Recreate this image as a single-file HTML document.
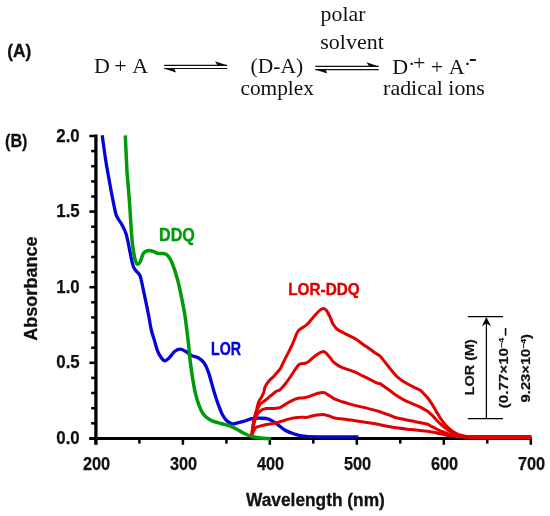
<!DOCTYPE html>
<html><head><meta charset="utf-8"><title>Figure</title>
<style>
html,body{margin:0;padding:0;background:#fff;}
svg{display:block;filter:blur(0.3px);}
.serif{font-family:"Liberation Serif",serif;font-size:21px;fill:#111;}
.sb{font-family:"Liberation Sans",sans-serif;font-weight:bold;fill:#111;}
</style></head>
<body>
<svg width="550" height="516" viewBox="0 0 550 516">
<rect width="550" height="516" fill="#fff"/>
<!-- panel A -->
<text class="sb" x="7.3" y="56.8" font-size="17.8" textLength="24.1" lengthAdjust="spacingAndGlyphs" stroke="#111" stroke-width="0.3">(A)</text>
<g class="serif">
<text font-size="22" y="72.9"><tspan x="94.0">D</tspan><tspan x="114.2"> </tspan><tspan x="114.2">+</tspan><tspan x="126.8"> </tspan><tspan x="132.3">A</tspan></text>
<text x="250.6" y="72.8" textLength="52.5" lengthAdjust="spacingAndGlyphs">(D-A)</text>
<text x="240.45" y="95.4" font-size="22" textLength="73.5" lengthAdjust="spacingAndGlyphs">complex</text>
<text x="320.6" y="20.8" font-size="22" textLength="44.8" lengthAdjust="spacingAndGlyphs">polar</text>
<text x="320.3" y="48.9" font-size="22" textLength="63.5" lengthAdjust="spacingAndGlyphs">solvent</text>
<text font-size="22"><tspan x="392.2" y="73.9">D</tspan><tspan x="408.05" y="71.2">·</tspan><tspan x="413.1" y="69.5">+</tspan><tspan x="430.8" y="74.2">+</tspan><tspan x="448.7" y="73.9">A</tspan><tspan x="463.75" y="71.3">·</tspan><tspan x="468.9" y="65.8" font-size="23" font-weight="bold">-</tspan></text>
<text x="383.1" y="95.3" textLength="101.8" lengthAdjust="spacingAndGlyphs">radical ions</text>
</g>
<g stroke="#111" stroke-width="1.2" fill="none">
<path d="M164.1 65.35H227.2"/>
<path d="M164.1 68.5H227.2"/>
<path d="M315.2 66.3H378.7"/>
<path d="M315.2 69.6H378.7"/>
</g>
<g fill="#111">
<path d="M227.6 65.5L215.0 61.3L217.6 65.5Z"/>
<path d="M163.7 68.4L176 72.4L174.3 68.4Z"/>
<path d="M379.1 66.4L366.4 62.3L369.2 66.4Z"/>
<path d="M314.8 69.5L327.3 73.6L325.5 69.5Z"/>
</g>
<!-- panel B -->
<text class="sb" x="5.1" y="146.8" font-size="17.8" textLength="22.4" lengthAdjust="spacingAndGlyphs" stroke="#111" stroke-width="0.3">(B)</text>
<g stroke="#000" stroke-width="2.5"><line x1="89.4" x2="95" y1="438.4" y2="438.4"/><line x1="91.2" x2="95" y1="423.3" y2="423.3"/><line x1="91.2" x2="95" y1="408.2" y2="408.2"/><line x1="91.2" x2="95" y1="393.0" y2="393.0"/><line x1="91.2" x2="95" y1="377.9" y2="377.9"/><line x1="89.4" x2="95" y1="362.8" y2="362.8"/><line x1="91.2" x2="95" y1="347.7" y2="347.7"/><line x1="91.2" x2="95" y1="332.6" y2="332.6"/><line x1="91.2" x2="95" y1="317.4" y2="317.4"/><line x1="91.2" x2="95" y1="302.3" y2="302.3"/><line x1="89.4" x2="95" y1="287.2" y2="287.2"/><line x1="91.2" x2="95" y1="272.1" y2="272.1"/><line x1="91.2" x2="95" y1="257.0" y2="257.0"/><line x1="91.2" x2="95" y1="241.8" y2="241.8"/><line x1="91.2" x2="95" y1="226.7" y2="226.7"/><line x1="89.4" x2="95" y1="211.6" y2="211.6"/><line x1="91.2" x2="95" y1="196.5" y2="196.5"/><line x1="91.2" x2="95" y1="181.4" y2="181.4"/><line x1="91.2" x2="95" y1="166.2" y2="166.2"/><line x1="91.2" x2="95" y1="151.1" y2="151.1"/><line x1="89.4" x2="95" y1="136.0" y2="136.0"/><line y1="439" y2="444.8" x1="95.9" x2="95.9"/><line y1="439" y2="443.6" x1="139.4" x2="139.4"/><line y1="439" y2="444.8" x1="182.9" x2="182.9"/><line y1="439" y2="443.6" x1="226.4" x2="226.4"/><line y1="439" y2="444.8" x1="269.8" x2="269.8"/><line y1="439" y2="443.6" x1="313.3" x2="313.3"/><line y1="439" y2="444.8" x1="356.8" x2="356.8"/><line y1="439" y2="443.6" x1="400.3" x2="400.3"/><line y1="439" y2="444.8" x1="443.8" x2="443.8"/><line y1="439" y2="443.6" x1="487.3" x2="487.3"/><line y1="439" y2="444.8" x1="530.8" x2="530.8"/></g>
<path d="M95.9 134.5V444.6" stroke="#000" stroke-width="3.3" fill="none"/>
<path d="M89.4 438.4H531.9" stroke="#000" stroke-width="3.0" fill="none"/>
<g class="sb" font-size="18.3" stroke="#111" stroke-width="0.25"><text x="79.7" y="443.9" text-anchor="end" textLength="23.4" lengthAdjust="spacingAndGlyphs">0.0</text><text x="79.7" y="368.3" text-anchor="end" textLength="23.4" lengthAdjust="spacingAndGlyphs">0.5</text><text x="79.7" y="292.7" text-anchor="end" textLength="23.4" lengthAdjust="spacingAndGlyphs">1.0</text><text x="79.7" y="217.1" text-anchor="end" textLength="23.4" lengthAdjust="spacingAndGlyphs">1.5</text><text x="79.7" y="141.5" text-anchor="end" textLength="23.4" lengthAdjust="spacingAndGlyphs">2.0</text><text x="96.6" y="469.8" text-anchor="middle" textLength="27.2" lengthAdjust="spacingAndGlyphs">200</text><text x="183.6" y="469.8" text-anchor="middle" textLength="27.2" lengthAdjust="spacingAndGlyphs">300</text><text x="270.5" y="469.8" text-anchor="middle" textLength="27.2" lengthAdjust="spacingAndGlyphs">400</text><text x="357.5" y="469.8" text-anchor="middle" textLength="27.2" lengthAdjust="spacingAndGlyphs">500</text><text x="444.5" y="469.8" text-anchor="middle" textLength="27.2" lengthAdjust="spacingAndGlyphs">600</text><text x="531.5" y="469.8" text-anchor="middle" textLength="27.2" lengthAdjust="spacingAndGlyphs">700</text></g>
<text class="sb" font-size="18" x="246.0" y="506.1" textLength="138.8" lengthAdjust="spacingAndGlyphs" stroke="#111" stroke-width="0.3">Wavelength (nm)</text>
<text class="sb" font-size="18" transform="translate(36.9 340.8) rotate(-90)" textLength="104.4" lengthAdjust="spacingAndGlyphs" stroke="#111" stroke-width="0.3">Absorbance</text>
<g fill="none" stroke-linejoin="round" stroke-linecap="butt">
<path d="M102.2 135.3C102.8 139.8 104.5 152.6 106.0 162.0C107.5 171.4 110.0 184.5 111.3 191.8C112.6 199.1 113.3 202.1 114.1 206.0C114.9 209.9 115.5 213.0 116.3 215.3C117.1 217.6 118.0 218.5 118.9 220.0C119.8 221.5 120.7 222.4 121.7 224.3C122.8 226.2 124.2 229.0 125.2 231.5C126.2 234.0 126.3 234.1 127.5 239.5C128.7 244.9 131.2 258.9 132.6 264.1C134.0 269.3 134.6 268.6 135.8 270.5C137.1 272.4 138.8 272.6 140.1 275.8C141.3 279.0 141.9 283.1 143.3 289.7C144.7 296.3 147.3 308.6 148.6 315.3C149.9 322.0 150.3 325.8 151.3 330.0C152.3 334.2 153.4 337.1 154.5 340.7C155.6 344.2 156.4 348.3 157.7 351.3C158.9 354.3 160.8 357.2 162.0 358.8C163.2 360.4 164.0 361.1 165.2 360.9C166.4 360.7 167.8 359.3 169.4 357.7C171.0 356.1 173.0 352.7 174.8 351.3C176.6 349.9 178.3 349.2 180.1 349.2C181.9 349.2 183.4 350.2 185.4 351.3C187.4 352.4 189.7 354.5 191.8 355.6C193.9 356.7 196.1 356.5 198.2 357.7C200.3 358.9 202.5 360.5 204.2 363.0C205.9 365.5 206.9 367.8 208.6 372.6C210.2 377.4 212.5 386.5 214.1 391.8C215.7 397.1 216.9 400.8 218.3 404.6C219.7 408.4 221.1 412.2 222.5 414.8C223.9 417.4 225.0 419.1 226.5 420.5C228.0 421.9 230.1 423.0 231.5 423.5C232.9 424.0 232.9 424.0 234.9 423.6C236.9 423.2 240.7 422.2 243.5 421.4C246.3 420.6 249.2 419.2 252.0 418.7C254.8 418.2 257.7 418.1 260.5 418.2C263.3 418.3 266.1 418.2 269.0 419.3C271.9 420.4 275.1 422.9 277.6 424.6C280.1 426.3 281.9 428.2 284.0 429.5C286.1 430.8 288.1 431.7 290.4 432.6C292.7 433.6 295.4 434.6 298.0 435.2C300.6 435.8 302.3 436.1 306.0 436.4C309.7 436.7 311.3 436.7 320.0 436.8C328.7 436.9 352.0 436.9 358.4 436.9" stroke="#0505d8" stroke-width="3.3"/>
<path d="M125.3 135.3C125.6 141.1 126.5 162.6 126.9 170.0C127.3 177.4 127.2 174.1 127.7 180.0C128.2 185.9 129.1 196.8 129.7 205.2C130.3 213.6 130.8 223.4 131.3 230.4C131.8 237.4 132.2 242.1 132.8 247.0C133.5 251.9 134.4 256.9 135.2 259.8C135.9 262.7 136.5 263.7 137.3 264.1C138.1 264.5 139.1 263.8 140.1 262.0C141.1 260.2 142.1 255.4 143.3 253.5C144.6 251.6 146.0 251.1 147.6 250.7C149.2 250.3 151.1 250.8 152.9 251.3C154.7 251.8 156.4 253.1 158.2 253.5C160.0 253.9 162.0 253.2 163.6 253.5C165.2 253.8 166.4 254.0 167.8 255.6C169.2 257.2 170.5 259.1 172.1 263.0C173.7 266.9 175.8 273.1 177.4 279.0C179.0 284.9 180.4 292.1 181.7 298.2C182.9 304.2 184.1 310.0 184.9 315.3C185.8 320.6 186.2 325.6 186.8 330.0C187.4 334.4 187.7 336.7 188.3 342.0C188.9 347.3 189.5 355.1 190.3 362.0C191.2 368.9 192.4 377.3 193.4 383.3C194.4 389.3 195.3 393.5 196.6 398.0C197.9 402.5 199.7 407.4 201.2 410.5C202.7 413.6 203.7 414.9 205.5 416.6C207.3 418.3 209.4 419.7 212.0 420.8C214.6 421.9 218.2 422.7 221.0 423.5C223.8 424.3 226.4 424.7 229.0 425.6C231.6 426.6 234.7 428.1 236.8 429.2C238.9 430.3 240.0 431.1 241.6 432.0C243.2 432.9 244.8 433.8 246.4 434.5C248.0 435.2 249.6 435.8 251.2 436.3C252.8 436.8 254.4 437.0 256.0 437.3C257.6 437.6 259.2 437.7 260.8 437.9C262.4 438.1 263.9 438.3 265.6 438.4C267.3 438.5 269.9 438.6 270.8 438.7" stroke="#009b0a" stroke-width="3.5"/>
<g stroke="#e10000" stroke-width="3.0">
<path d="M251.8 434.5C252.3 433.6 253.9 430.3 254.7 429.1C255.5 427.9 255.0 427.9 256.6 427.2C258.2 426.5 261.5 425.6 264.4 425.0C267.3 424.4 271.5 423.9 274.1 423.4C276.7 422.9 278.2 422.3 280.0 421.8C281.8 421.3 283.3 420.7 285.0 420.2C286.7 419.7 288.4 419.1 290.1 418.7C291.8 418.3 293.4 417.9 295.1 417.7C296.8 417.4 298.2 417.2 300.1 417.2C302.0 417.1 304.5 417.5 306.2 417.4C307.9 417.3 308.7 416.8 310.2 416.4C311.7 416.0 313.5 415.5 315.2 415.2C316.9 414.9 318.8 414.8 320.3 414.7C321.8 414.6 323.0 414.5 324.3 414.7C325.6 414.9 327.0 415.3 328.3 415.7C329.6 416.1 331.1 416.8 332.4 417.2C333.7 417.6 333.9 417.9 336.0 418.2C338.1 418.5 341.9 418.8 345.1 419.2C348.3 419.6 351.9 420.2 355.2 420.7C358.5 421.2 361.8 421.7 365.2 422.2C368.6 422.7 372.8 423.3 375.3 423.7C377.8 424.1 377.5 424.2 380.0 424.7C382.5 425.2 386.8 426.1 390.1 426.7C393.5 427.3 396.8 427.8 400.1 428.3C403.5 428.8 406.8 429.1 410.2 429.5C413.6 429.9 417.3 430.3 420.3 430.6C423.3 430.9 426.1 431.1 428.0 431.3C429.9 431.5 430.6 431.8 432.0 432.0C433.4 432.2 434.8 432.5 436.1 432.8C437.5 433.1 438.8 433.4 440.1 433.7C441.4 434.0 442.8 434.3 444.1 434.6C445.4 434.9 446.1 435.2 448.1 435.5C450.1 435.8 450.7 436.3 456.0 436.6C461.3 436.9 476.0 437.0 480.0 437.1"/>
<path d="M251.8 434.5C252.2 432.6 253.3 426.4 254.1 423.3C254.9 420.2 255.5 417.7 256.6 415.6C257.7 413.5 258.9 411.9 260.5 410.7C262.1 409.5 264.0 409.0 266.3 408.6C268.6 408.2 271.8 408.5 274.1 408.4C276.4 408.2 278.2 408.3 280.0 407.7C281.8 407.1 283.3 405.6 285.0 404.6C286.7 403.6 288.4 402.5 290.1 401.6C291.8 400.7 293.6 399.7 295.1 399.1C296.6 398.5 297.4 398.4 299.1 398.1C300.8 397.9 303.4 397.9 305.2 397.6C307.0 397.3 308.5 396.7 310.2 396.1C311.9 395.5 313.5 394.7 315.2 394.1C316.9 393.5 318.8 392.9 320.3 392.7C321.8 392.4 323.1 392.3 324.3 392.6C325.5 392.9 326.4 393.8 327.3 394.4C328.2 395.0 328.7 395.2 330.0 396.0C331.3 396.8 333.0 398.2 335.0 399.2C337.0 400.2 339.6 401.0 342.1 401.8C344.6 402.6 347.1 403.3 350.1 404.1C353.1 404.9 356.8 405.8 360.2 406.6C363.6 407.4 367.3 408.3 370.3 409.1C373.3 409.9 375.3 410.3 378.3 411.2C381.3 412.1 385.1 413.6 388.1 414.7C391.1 415.8 393.2 416.9 396.1 417.7C399.0 418.5 402.0 419.0 405.2 419.7C408.4 420.4 412.2 421.1 415.2 421.7C418.2 422.3 421.2 422.9 423.3 423.3C425.4 423.8 426.6 423.8 428.0 424.4C429.4 425.0 430.6 426.0 432.0 426.7C433.4 427.4 434.8 428.1 436.1 428.8C437.5 429.5 438.8 430.2 440.1 430.8C441.4 431.4 442.8 431.8 444.1 432.3C445.4 432.8 446.6 433.3 448.1 433.8C449.6 434.3 450.6 434.8 453.2 435.3C455.8 435.8 459.1 436.5 463.6 436.8C468.1 437.1 477.3 437.1 480.0 437.1"/>
<path d="M251.8 434.5C252.1 432.3 253.0 424.9 253.7 421.4C254.3 417.9 254.7 416.4 255.7 413.6C256.7 410.9 258.1 407.0 259.5 404.9C260.9 402.8 262.6 402.4 264.4 401.0C266.2 399.6 268.3 397.8 270.2 396.2C272.1 394.6 274.4 392.5 276.0 391.4C277.6 390.3 278.5 391.0 280.0 389.8C281.5 388.6 283.3 386.4 285.0 384.3C286.7 382.2 288.4 379.7 290.1 377.3C291.8 374.9 293.7 371.8 295.1 369.7C296.5 367.6 297.6 365.9 298.6 364.9C299.6 363.9 300.0 364.0 301.1 363.7C302.2 363.4 303.9 363.6 305.2 363.2C306.5 362.8 307.7 362.2 309.2 361.1C310.7 360.0 312.5 357.9 314.2 356.6C315.9 355.3 317.8 353.9 319.3 353.1C320.8 352.3 322.1 351.6 323.3 351.6C324.5 351.7 325.2 352.4 326.3 353.4C327.4 354.4 328.7 356.1 330.0 357.6C331.3 359.1 332.3 360.9 334.0 362.4C335.7 363.9 337.8 365.4 340.1 366.6C342.5 367.8 345.6 368.7 348.1 369.6C350.6 370.5 352.9 371.2 355.2 372.2C357.5 373.2 359.7 374.4 362.2 375.7C364.7 376.9 367.8 378.4 370.3 379.7C372.8 380.9 375.7 382.5 377.3 383.2C378.9 383.9 378.6 382.8 380.0 383.6C381.4 384.4 384.0 386.4 386.0 387.8C388.0 389.2 390.1 390.8 392.1 392.3C394.1 393.8 395.9 395.2 398.1 396.6C400.3 398.0 402.7 399.4 405.2 400.6C407.7 401.9 410.7 403.0 413.2 404.1C415.7 405.2 418.3 406.1 420.3 407.1C422.3 408.1 424.0 409.2 425.3 410.0C426.6 410.8 426.9 410.7 428.0 411.6C429.1 412.5 430.6 413.9 432.0 415.2C433.4 416.5 434.8 418.3 436.1 419.7C437.5 421.1 438.8 422.4 440.1 423.7C441.4 424.9 442.8 426.1 444.1 427.2C445.4 428.3 446.6 429.3 448.1 430.3C449.6 431.3 451.5 432.5 453.2 433.3C454.9 434.1 456.1 434.6 458.2 435.1C460.3 435.7 462.4 436.3 466.0 436.6C469.6 436.9 477.7 437.0 480.0 437.1"/>
<path d="M251.8 434.5C252.0 433.0 252.6 428.1 253.1 425.3C253.6 422.5 254.1 420.1 254.7 417.5C255.3 414.9 256.0 412.4 256.6 409.8C257.2 407.2 257.8 404.1 258.6 402.0C259.4 399.9 260.6 398.8 261.5 397.2C262.4 395.6 263.2 393.9 263.8 392.3C264.4 390.7 264.1 389.3 264.8 387.5C265.6 385.7 266.8 383.6 268.3 381.7C269.9 379.8 272.2 378.0 274.1 375.9C276.1 373.8 278.5 371.3 280.0 369.2C281.5 367.1 282.0 365.2 283.0 363.2C284.0 361.2 285.0 359.1 286.0 357.1C287.0 355.1 288.1 353.1 289.1 351.1C290.1 349.1 291.2 346.9 292.1 345.0C293.0 343.1 293.7 341.2 294.4 339.5C295.1 337.8 295.6 336.0 296.3 334.5C297.0 333.0 297.6 331.7 298.5 330.6C299.4 329.6 300.2 329.1 301.5 328.2C302.8 327.3 304.5 326.7 306.4 325.0C308.3 323.3 310.6 320.3 312.7 318.0C314.8 315.7 317.2 312.6 319.0 311.0C320.8 309.4 322.1 308.6 323.3 308.5C324.6 308.4 325.4 309.1 326.5 310.5C327.6 311.9 328.9 314.7 330.0 317.0C331.1 319.3 331.8 322.1 333.0 324.1C334.2 326.1 335.5 327.8 337.0 329.1C338.5 330.5 340.2 331.2 342.1 332.2C344.0 333.2 345.9 334.1 348.1 335.2C350.3 336.3 352.9 337.3 355.2 338.7C357.5 340.1 359.7 341.9 362.2 343.7C364.7 345.5 367.8 347.5 370.3 349.3C372.8 351.1 375.7 353.2 377.3 354.3C378.9 355.4 378.7 354.7 380.0 356.0C381.3 357.3 383.3 360.0 385.0 362.1C386.7 364.2 388.2 366.3 390.1 368.6C392.0 370.9 394.1 373.7 396.1 375.7C398.1 377.7 400.2 379.3 402.2 380.7C404.2 382.1 406.2 383.1 408.2 384.2C410.2 385.3 412.2 386.3 414.2 387.3C416.2 388.3 418.6 389.1 420.3 390.3C422.0 391.5 423.0 393.0 424.3 394.3C425.6 395.6 426.7 396.7 428.0 398.3C429.3 399.9 430.6 402.0 432.0 404.1C433.4 406.2 434.8 408.8 436.1 411.1C437.5 413.4 438.8 415.7 440.1 417.7C441.4 419.7 442.8 421.5 444.1 423.2C445.4 424.9 446.6 426.3 448.1 427.7C449.6 429.1 451.5 430.7 453.2 431.8C454.9 432.9 456.5 433.6 458.2 434.3C459.9 435.0 461.2 435.4 463.2 435.8C465.2 436.2 467.0 436.6 470.3 436.8C473.6 437.0 472.8 437.1 483.0 437.1C493.2 437.2 523.2 437.1 531.3 437.1"/>
<path d="M468 437.1H531.4" stroke-width="4.4"/>
</g>
</g>
<text class="sb" font-size="17.7" x="159.1" y="240.7" textLength="35.8" lengthAdjust="spacingAndGlyphs" style="fill:#009b0a;stroke:#009b0a;stroke-width:0.4">DDQ</text>
<text class="sb" font-size="17.5" x="211.0" y="355.1" textLength="29.9" lengthAdjust="spacingAndGlyphs" style="fill:#0505d8;stroke:#0505d8;stroke-width:0.4">LOR</text>
<text class="sb" font-size="17.3" x="288.2" y="294.7" textLength="71.5" lengthAdjust="spacingAndGlyphs" style="fill:#e10000;stroke:#e10000;stroke-width:0.4">LOR-DDQ</text>
<!-- arrow annotation -->
<g stroke="#000" stroke-width="1.25" fill="none">
<path d="M467.8 316.5H503M467.8 418.5H503M486.4 418.5V318"/>
</g>
<path d="M486.4 317.0L491.0 326.2L486.4 323.2L481.8 326.2Z" fill="#000"/>
<text class="sb" font-size="13.5" transform="translate(474.3 395.2) rotate(-90)" textLength="56" lengthAdjust="spacingAndGlyphs" stroke="#111" stroke-width="0.2">LOR (M)</text>
<text class="sb" font-size="12.1" transform="translate(507.5 408.3) rotate(-90) scale(1.255 1)" stroke="#111" stroke-width="0.2">(0.77×10<tspan font-size="7" dy="-3.7">−4</tspan><tspan dy="5.1" dx="1.6">–</tspan></text>
<text class="sb" font-size="12.1" transform="translate(529.6 402.4) rotate(-90) scale(1.22 1)" stroke="#111" stroke-width="0.2">9.23×10<tspan font-size="7" dy="-3.7">−4</tspan><tspan dy="3.7">)</tspan></text>
</svg>
</body></html>
